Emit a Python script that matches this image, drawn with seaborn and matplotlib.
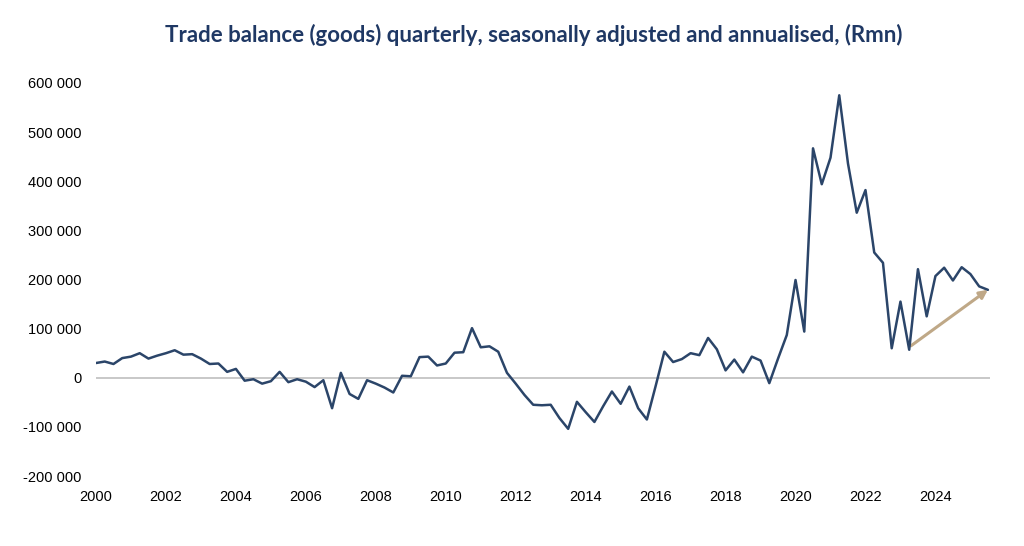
import numpy as np
import pandas as pd
import matplotlib
matplotlib.use("Agg")
import matplotlib.pyplot as plt
import seaborn as sns

# Quarterly trade balance (goods), 2000Q1 .. 2025Q3, Rmn
start_year = 2000
values = [
    30000, 33000, 28000, 40000,      # 2000
    43000, 50000, 39000, 45000,      # 2001
    50000, 56000, 47000, 48000,      # 2002
    39000, 28000, 29000, 12000,      # 2003
    18000, -6000, -3000, -12000,     # 2004
    -7000, 12000, -9000, -3000,      # 2005
    -8000, -19000, -5000, -62000,    # 2006
    10000, -33000, -43000, -5000,    # 2007
    -12000, -20000, -30000, 4000,    # 2008
    3000, 42000, 43000, 25000,       # 2009
    29000, 51000, 52000, 101000,     # 2010
    62000, 64000, 53000, 10000,      # 2011
    -12000, -35000, -55000, -56000,  # 2012
    -55000, -82000, -104000, -49000, # 2013
    -70000, -90000, -58000, -28000,  # 2014
    -53000, -18000, -62000, -85000,  # 2015
    -17000, 53000, 32000, 38000,     # 2016
    50000, 46000, 81000, 58000,      # 2017
    15000, 37000, 11000, 43000,      # 2018
    35000, -11000, 39000, 87000,     # 2019
    199000, 94000, 467000, 394000,   # 2020
    448000, 575000, 436000, 336000,  # 2021
    382000, 255000, 234000, 60000,   # 2022
    155000, 57000, 221000, 125000,   # 2023
    207000, 224000, 198000, 225000,  # 2024
    211000, 186000, 179000,          # 2025
]
xticks = list(range(2000, 2025, 2))
yticks = [-200000, -100000, 0, 100000, 200000, 300000, 400000, 500000, 600000]
ytick_labels = ["-200 000", "-100 000", "0", "100 000", "200 000", "300 000",
                "400 000", "500 000", "600 000"]
title = "Trade balance (goods) quarterly, seasonally adjusted and annualised, (Rmn)"
# trend arrow: from 2023Q2 low to latest quarter
arrow_start_idx = 93
arrow_end_idx = len(values) - 1

df = pd.DataFrame({
    "date": [start_year + i / 4 for i in range(len(values))],
    "value": values,
})

sns.set_theme(style="white")
plt.rcParams["font.family"] = ["Liberation Sans", "DejaVu Sans"]

fig = plt.figure(figsize=(10.24, 5.46), dpi=100)
ax = fig.add_axes([96 / 1024, 1 - 476 / 546, (990 - 96) / 1024, (476 - 83) / 546])

ax.axhline(0, color="#bfbfbf", linewidth=1.2, zorder=1)
sns.lineplot(data=df, x="date", y="value", ax=ax, color="#2b4569",
             linewidth=1.8, zorder=3)

x0 = df["date"].iloc[arrow_start_idx] + 0.05
y0 = df["value"].iloc[arrow_start_idx] + 8000
x1 = df["date"].iloc[arrow_end_idx]
y1 = df["value"].iloc[arrow_end_idx]
ax.annotate("", xy=(x1, y1), xytext=(x0, y0),
            arrowprops=dict(arrowstyle="-|>", color="#bfa887", lw=2.2,
                            mutation_scale=12, shrinkA=0, shrinkB=0),
            zorder=2)

ax.set_xlim(2000, 2025.56)
ax.set_ylim(-200000, 600000)
ax.set_xticks(xticks)
ax.set_xticklabels([str(t) for t in xticks], fontsize=10.5, color="#000000")
ax.set_yticks(yticks)
ax.set_yticklabels(ytick_labels, fontsize=10.5, color="#000000")
ax.tick_params(axis="y", length=0, pad=10.5)
ax.tick_params(axis="x", length=0, pad=10)
ax.set_xlabel("")
ax.set_ylabel("")
for s in ax.spines.values():
    s.set_visible(False)
ax.grid(False)

fig.text(534 / 1024, 1 - 35 / 546, title, ha="center", va="center",
         fontsize=16, fontweight="bold", color="#1f3864", family=["Lato", "DejaVu Sans"])

fig.savefig("out.png", dpi=100, facecolor="white")
